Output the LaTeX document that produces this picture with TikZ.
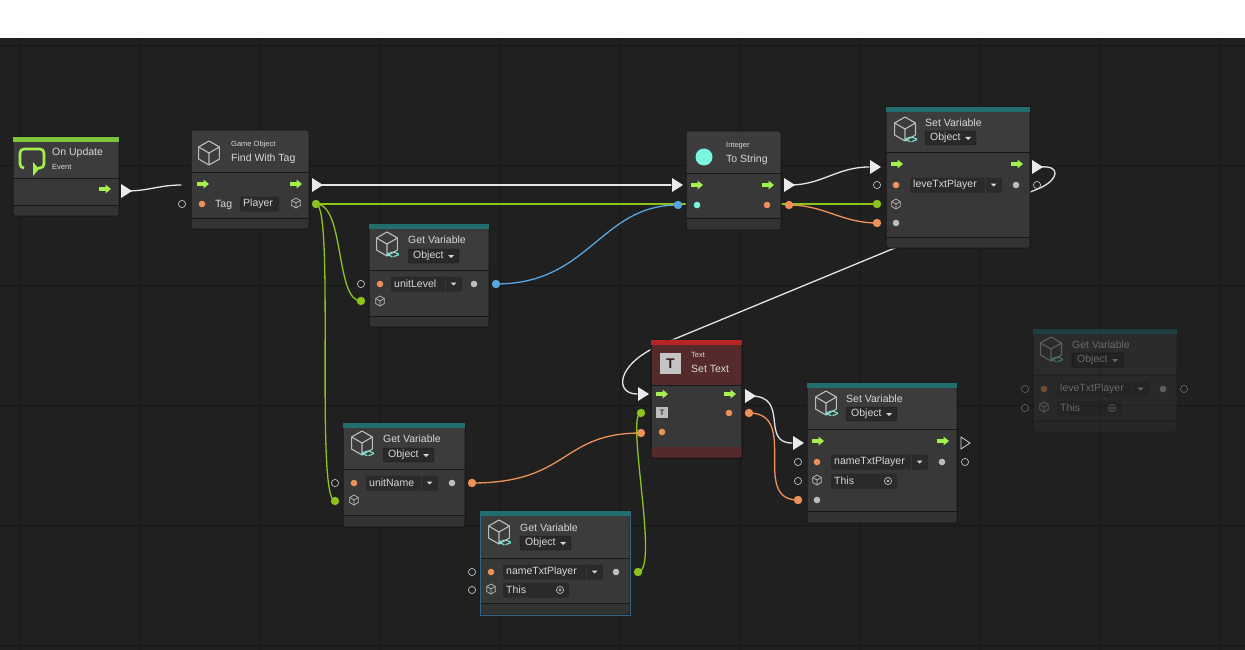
\documentclass[tikz,border=0pt]{standalone}
\usepackage{fontspec}
\setmainfont{Liberation Sans}
\usetikzlibrary{backgrounds}
\definecolor{bg}{HTML}{202020}
\definecolor{nbody}{HTML}{383838}
\definecolor{nhead}{HTML}{3c3c3c}
\definecolor{nedge}{HTML}{181818}
\definecolor{nfoot}{HTML}{333333}
\definecolor{fieldc}{HTML}{2a2a2a}
\definecolor{txt}{HTML}{D8D8D8}
\definecolor{flowg}{HTML}{A4F04E}
\definecolor{linkg}{HTML}{8CC41C}
\definecolor{orng}{HTML}{EE9158}
\definecolor{teal}{HTML}{226E6E}
\definecolor{bluel}{HTML}{5AA6E0}
\definecolor{cyanc}{HTML}{7AF5DE}
\definecolor{redbar}{HTML}{B82424}
\definecolor{redhead}{HTML}{552A2A}
\definecolor{greybar}{HTML}{7CC53A}
\definecolor{gdot}{HTML}{BDBDBD}
\tikzset{
 x=1pt,y=-1pt,
 titlef/.style={font=\fontsize{10.5}{11}\selectfont,text=txt,anchor=west,inner sep=0},
 smallf/.style={font=\fontsize{7.5}{8}\selectfont,text=txt,anchor=west,inner sep=0},
 fieldf/.style={font=\fontsize{10.5}{11}\selectfont,text=txt,anchor=west,inner sep=0},
 wire/.style={line width=1.3pt,line cap=round},
 pics/cubeic/.style={code={
   \draw[gdot,line width=1.1pt,line join=round] (0,-1)--(0.87,-0.5)--(0.87,0.5)--(0,1)--(-0.87,0.5)--(-0.87,-0.5)--cycle;
   \draw[gdot,line width=1.1pt,line join=round] (-0.87,-0.5)--(0,0)--(0.87,-0.5) (0,0)--(0,1);}},
 pics/smcube/.style={code={
   \draw[gdot,line width=0.7pt,line join=round] (0,-5)--(4.3,-2.5)--(4.3,2.5)--(0,5)--(-4.3,2.5)--(-4.3,-2.5)--cycle;
   \draw[gdot,line width=0.7pt,line join=round] (-4.3,-2.5)--(0,0)--(4.3,-2.5) (0,0)--(0,5);}},
 pics/flowar/.style={code={
   \fill[flowg] (-6,-1.6) rectangle (1,1.6);
   \fill[flowg] (0.5,-4.5)--(6,0)--(0.5,4.5)--cycle;}},
 pics/tri/.style={code={\fill[white!92!black] (-5,-7)--(6,0)--(-5,7)--cycle;}},
 pics/otri/.style={code={\draw[white!85!black,line width=0.8pt] (-4,-6)--(5,0)--(-4,6)--cycle;}},
}
\newcommand\unode[7]{%
 \fill[nbody] (#1,#2) rectangle (#3,#4);
 \fill[#7] (#1,#2) rectangle (#3,#5);
 \fill[nfoot] (#1,#6) rectangle (#3,#4);
 \draw[nedge,line width=1pt] (#1,#5)--(#3,#5) (#1,#6)--(#3,#6);
 \draw[nedge,line width=1pt,rounded corners=2] (#1,#2) rectangle (#3,#4);}
\newcommand\ubar[4]{\fill[#4] (#1,#2) rectangle (#3,#2+5);}
\newcommand\ufield[4]{\fill[fieldc,rounded corners=2] (#1,#2-7.5) rectangle (#3,#2+7.5);
 \node[fieldf] at (#1+3,#2) {#4};}
\newcommand\udrop[4]{\fill[fieldc,rounded corners=2] (#1,#2-7.5) rectangle (#3,#2+7.5);
 \draw[nbody,line width=1pt] (#3-17,#2-7.5)--(#3-17,#2+7.5);
 \fill[txt] (#3-11.5,#2-1.5)--(#3-5.5,#2-1.5)--(#3-8.5,#2+1.5)--cycle;
 \node[fieldf] at (#1+3,#2) {#4};}
\newcommand\utarget[4]{\fill[fieldc,rounded corners=2] (#1,#2-7.5) rectangle (#3,#2+7.5);
 \draw[gdot,line width=0.7pt] (#3-9,#2) circle (3.6);\fill[gdot] (#3-9,#2) circle (1.4);
 \node[fieldf] at (#1+3,#2) {#4};}
\newcommand\uobj[3]{\fill[nfoot!80!black,rounded corners=2] (#1,#2-7) rectangle (#1+51,#2+7);
 \draw[nedge,rounded corners=2] (#1,#2-7) rectangle (#1+51,#2+7);
 \node[fieldf] at (#1+5,#2) {Object};
 \fill[txt] (#1+40,#2-1)--(#1+46,#2-1)--(#1+43,#2+2)--cycle;}
\newcommand\pdot[3]{\fill[#3] (#1,#2) circle (3.3);}
\newcommand\ocirc[2]{\draw[gdot,line width=0.7pt] (#1,#2) circle (3.6);}
\newcommand\gvicon[2]{\pic[scale=12] at (#1,#2-3) {cubeic};
 \node[text=cyanc,font=\bfseries\fontsize{11}{11}\selectfont,inner sep=0] at (#1+6,#2+8) {<>};}
\begin{document}
\begin{tikzpicture}
\useasboundingbox (0,0) rectangle (1245,650);
\begin{scope}[on background layer]
\fill[white] (0,0) rectangle (1245,38);
\fill[bg] (0,38) rectangle (1245,650);
\foreach \gx in {20,140,...,1245} \draw[black!30!bg,line width=0.6pt] (\gx,38)--(\gx,650);
\foreach \gy in {45,165,...,650} \draw[black!30!bg,line width=0.6pt] (0,\gy)--(1245,\gy);
\end{scope}

% ---- On Update
\unode{13}{137}{119}{216}{178}{205}{nhead}
\ubar{13}{137}{119}{greybar}
\draw[flowg,line width=2.6pt,rounded corners=4] (24,168)--(20,168)--(20,149)--(44,149)--(44,168)--(38,168);
\fill[flowg] (33,162)--(39,169)--(33,176)--cycle;
\node[titlef] at (52,153) {On Update};
\node[smallf] at (52,167) {Event};
\pic at (105,189) {flowar};
\pic at (126,191) {tri};
\coordinate (ouOut) at (127,191);

% ---- Find With Tag
\unode{191}{130}{309}{229}{172}{218}{nhead}
\pic[scale=12] at (209,153) {cubeic};
\node[smallf] at (231,145) {Game Object};
\node[titlef] at (231,159) {Find With Tag};
\pic at (203,184) {flowar};
\pic at (296,184) {flowar};
\ocirc{182}{204}\pdot{202}{204}{orng}
\node[fieldf] at (215,205) {Tag};
\ufield{240}{204}{279}{Player}
\pic at (296,203) {smcube};
\pic at (317,185) {tri};
\coordinate (fwtIn) at (181,185);
\coordinate (fwtOut) at (318,185);
\coordinate (fwtObj) at (316,204);

% ---- Get Variable unitLevel
\unode{369}{224}{489}{327}{270}{316}{nhead}
\ubar{369}{224}{489}{teal}
\gvicon{387}{247}
\node[titlef] at (408,240) {Get Variable};
\uobj{408}{256}{}
\ocirc{361}{284}\pdot{380}{284}{orng}
\udrop{391}{284}{462}{unitLevel}
\pdot{474}{284}{gdot}
\pic at (380,301) {smcube};
\coordinate (ulOut) at (496,284);
\coordinate (ulObj) at (361,301);

% ---- Integer To String
\unode{686}{131}{781}{230}{173}{218}{nhead}
\fill[cyanc] (704,157) circle (8.5);
\node[smallf] at (726,146) {Integer};
\node[titlef] at (726,160) {To String};
\pic at (697,185) {flowar};
\pic at (768,185) {flowar};
\pdot{697}{205}{cyanc}\pdot{767}{205}{orng}
\pic at (677,185) {tri};
\pic at (789,185) {tri};
\coordinate (tsIn) at (671,185);
\coordinate (tsVal) at (678,205);
\coordinate (tsOut) at (790,185);
\coordinate (tsStr) at (789,205);

% ---- Set Variable leveTxtPlayer
\unode{886}{107}{1030}{248}{153}{237}{nhead}
\ubar{886}{107}{1030}{teal}
\gvicon{905}{132}
\node[titlef] at (925,123) {Set Variable};
\uobj{925}{138}{}
\pic at (897,164) {flowar};
\pic at (1017,164) {flowar};
\pic at (875,167) {tri};
\pic at (1037,167) {tri};
\ocirc{877}{185}\pdot{896}{185}{orng}
\udrop{910}{185}{1002}{leveTxtPlayer}
\pdot{1016}{185}{gdot}\ocirc{1037}{185}
\pic at (896,204) {smcube};
\pdot{896}{223}{gdot}
\coordinate (sv1In) at (869,167);
\coordinate (sv1Obj) at (877,204);
\coordinate (sv1Val) at (877,223);
\coordinate (sv1Out) at (1040,167);

% ---- Set Text
\unode{651}{340}{742}{458}{385}{447}{redhead}
\fill[redhead] (651,447) rectangle (742,458);
\draw[nedge,line width=1pt,rounded corners=2] (651,340) rectangle (742,458);
\ubar{651}{340}{742}{redbar}
\fill[gdot!90!white] (660,353) rectangle (681,374);
\node[text=redhead!70!black,font=\bfseries\fontsize{14}{14}\selectfont,inner sep=0] at (670.5,364) {T};
\node[smallf] at (691,355) {Text};
\node[titlef] at (691,369) {Set Text};
\pic at (662,394) {flowar};
\pic at (730,394) {flowar};
\fill[gdot] (656,407) rectangle (668,418);
\node[text=nbody,font=\bfseries\fontsize{8}{8}\selectfont,inner sep=0] at (662,412.5) {T};
\pdot{729}{413}{orng}\pdot{662}{432}{orng}
\pic at (643,394) {tri};
\pic at (750,396) {tri};
\coordinate (stIn) at (637,394);
\coordinate (stTxt) at (641,413);
\coordinate (stVal) at (641,433);
\coordinate (stOut) at (751,396);
\coordinate (stObj) at (749,413);

% ---- Set Variable nameTxtPlayer
\unode{807}{383}{957}{523}{429}{511}{nhead}
\ubar{807}{383}{957}{teal}
\gvicon{826}{406}
\node[titlef] at (846,399) {Set Variable};
\uobj{846}{414}{}
\pic at (818,441) {flowar};
\pic at (943,441) {flowar};
\pic at (798,443) {tri};
\pic at (965,443) {otri};
\ocirc{798}{462}\pdot{817}{462}{orng}
\udrop{831}{462}{928}{nameTxtPlayer}
\pdot{942}{462}{gdot}\ocirc{965}{462}
\ocirc{798}{481}\pic at (817,480) {smcube};
\utarget{831}{481}{897}{This}
\pdot{817}{500}{gdot}
\coordinate (sv2In) at (792,443);
\coordinate (sv2Val) at (798,500);

% ---- Get Variable unitName
\unode{343}{423}{465}{527}{469}{515}{nhead}
\ubar{343}{423}{465}{teal}
\gvicon{362}{446}
\node[titlef] at (383,439) {Get Variable};
\uobj{383}{455}{}
\ocirc{335}{483}\pdot{354}{483}{orng}
\udrop{366}{483}{438}{unitName}
\pdot{452}{483}{gdot}
\pic at (354,500) {smcube};
\coordinate (unOut) at (472,483);
\coordinate (unObj) at (335,501);

% ---- Get Variable nameTxtPlayer
\unode{480}{511}{630}{615}{558}{603}{nhead}
\draw[bluel!60!black,line width=1pt] (480,511) rectangle (630,615);
\ubar{480}{511}{630}{teal}
\gvicon{499}{535}
\node[titlef] at (520,528) {Get Variable};
\uobj{520}{543}{}
\ocirc{472}{572}\pdot{491}{572}{orng}
\udrop{503}{572}{603}{nameTxtPlayer}
\pdot{616}{572}{gdot}
\ocirc{472}{590}\pic at (491,589) {smcube};
\utarget{503}{590}{569}{This}
\coordinate (ntOut) at (638,572);

% ---- faded Get Variable
\begin{scope}[opacity=0.4,transparency group]
\unode{1033}{329}{1177}{432}{375}{421}{nhead}
\ubar{1033}{329}{1177}{teal}
\gvicon{1051}{352}
\node[titlef] at (1072,345) {Get Variable};
\uobj{1072}{360}{}
\ocirc{1025}{389}\pdot{1044}{389}{orng}
\udrop{1057}{389}{1149}{leveTxtPlayer}
\pdot{1163}{389}{gdot}\ocirc{1184}{389}
\ocirc{1025}{408}\pic at (1044,407) {smcube};
\utarget{1057}{408}{1121}{This}
\end{scope}

% ---- wires (behind nodes)
\coordinate (m1) at (1040,188);
\coordinate (m2) at (660,345);
\begin{scope}[on background layer]
\draw[wire,white!90!black] (ouOut) to[out=0,in=180] (fwtIn);
\draw[wire,white!90!black] (fwtOut) -- (tsIn);
\draw[wire,linkg] (fwtObj) -- (sv1Obj);
\draw[wire,linkg] (fwtObj) .. controls (345,204) and (335,301) .. (ulObj);
\draw[wire,linkg] (fwtObj) .. controls (335,204) and (315,501) .. (unObj);
\draw[wire,bluel] (ulOut) .. controls (590,284) and (600,205) .. (tsVal);
\draw[wire,white!90!black] (tsOut) to[out=0,in=180] (sv1In);
\draw[wire,orng] (tsStr) to[out=0,in=180] (sv1Val);
\draw[wire,white!90!black] (sv1Out) .. controls (1062,165) and (1058,180) .. (m1) -- (m2) .. controls (615,365) and (615,394) .. (stIn);
\draw[wire,orng] (unOut) .. controls (570,483) and (560,433) .. (stVal);
\draw[wire,linkg] (ntOut) .. controls (660,572) and (625,413) .. (stTxt);
\draw[wire,white!90!black] (stOut) .. controls (790,396) and (760,443) .. (sv2In);
\draw[wire,orng] (stObj) .. controls (800,413) and (750,500) .. (sv2Val);
\end{scope}
\foreach \p/\c in {fwtObj/linkg,ulObj/linkg,unObj/linkg,ulOut/bluel,tsVal/bluel,tsStr/orng,sv1Obj/linkg,sv1Val/orng,unOut/orng,stVal/orng,ntOut/linkg,stTxt/linkg,stObj/orng,sv2Val/orng}
  \fill[\c] (\p) circle (4.2);
\end{tikzpicture}
\end{document}
